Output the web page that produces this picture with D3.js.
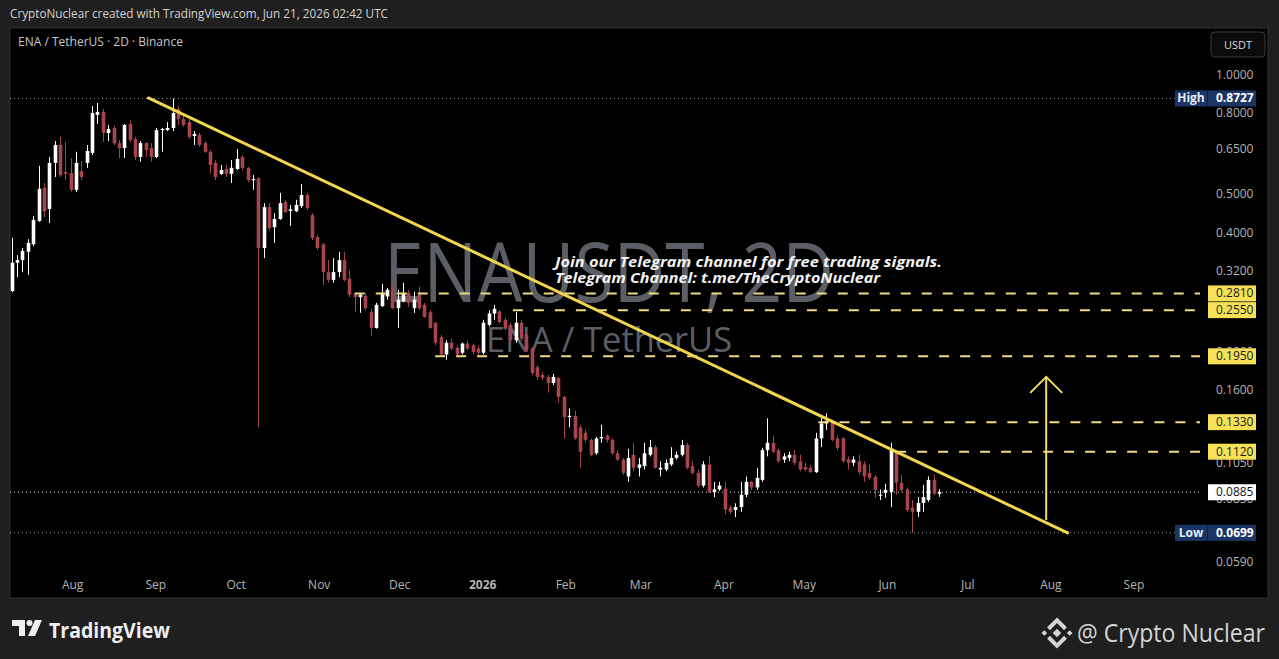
<!DOCTYPE html>
<html>
<head>
<meta charset="utf-8">
<script src="https://cdn.jsdelivr.net/npm/d3@7"></script>
<style>
  body { margin: 0; background: #1f1f1f; overflow: hidden; }
  svg { display: block; }
</style>
</head>
<body>
<div id="chart"></div>
<script>
// ENA / TetherUS, 2D bars
const firstBar = "2025-07-10"
const barDays = 2
const opens = [.285,.336,.341,.358,.374,.428,.519,.459,.600,.666,.569,.566,.513,.572,.600,.636,.793,.807,.714,.735,
  .673,.654,.752,.689,.621,.673,.654,.621,.726,.726,.735,.821,.774,.761,.702,.706,.673,.640,.600,.563,
  .579,.563,.579,.621,.583,.543,.549,.366,.464,.413,.433,.478,.454,.453,.467,.498,.443,.390,.374,.318,
  .304,.318,.341,.306,.281,.275,.277,.252,.230,.261,.276,.284,.258,.268,.282,.258,.279,.263,.252,.237,
  .218,.197,.211,.205,.199,.210,.208,.204,.199,.234,.250,.253,.241,.234,.214,.237,.221,.204,.183,.175,
  .173,.167,.172,.154,.137,.138,.129,.125,.120,.111,.121,.123,.120,.111,.107,.097,.110,.102,.103,.110,
  .115,.101,.101,.104,.108,.110,.1165,.103,.099,.092,.104,.0885,.090,.0903,.081,.0798,.0812,.0872,.094,.091,
  .0951,.113,.118,.113,.107,.108,.110,.106,.1025,.102,.0995,.121,.132,.133,.121,.121,.107,.105,.106,.104,
  .099,.0967,.0867,.0882,.0887,.112,.0935,.090,.081,.079,.0831,.0846,.0951,.0877]
const highs = [.388,.351,.366,.385,.441,.590,.534,.621,.681,.698,.678,.617,.640,.606,.666,.835,.850,.821,.748,.744,
  .685,.752,.770,.698,.681,.678,.673,.735,.735,.761,.8727,.835,.788,.774,.722,.714,.681,.647,.610,.593,
  .593,.610,.651,.628,.586,.559,.552,.475,.475,.448,.504,.484,.470,.484,.531,.504,.448,.395,.377,.341,
  .345,.358,.358,.322,.282,.282,.281,.257,.266,.297,.290,.299,.287,.299,.287,.284,.292,.266,.255,.238,
  .221,.214,.216,.208,.211,.214,.210,.208,.241,.255,.263,.255,.244,.237,.252,.241,.224,.206,.185,.178,
  .175,.176,.173,.155,.144,.142,.131,.127,.121,.122,.131,.124,.121,.113,.108,.114,.118,.108,.118,.120,
  .1165,.106,.107,.115,.112,.120,.118,.106,.101,.106,.109,.094,.094,.094,.082,.083,.094,.097,.0945,.102,
  .1145,.136,.123,.114,.111,.112,.113,.110,.105,.1037,.125,.136,.140,.134,.123,.122,.109,.109,.110,.106,
  .104,.0979,.090,.093,.118,.113,.098,.091,.0846,.086,.0924,.097,.098,.090]
const lows = [.283,.309,.318,.313,.370,.426,.438,.423,.553,.553,.543,.507,.507,.543,.583,.628,.752,.678,.681,.666,
  .617,.617,.678,.610,.604,.621,.604,.617,.640,.722,.722,.748,.740,.689,.666,.659,.636,.563,.543,.559,
  .553,.534,.576,.576,.537,.513,.129,.345,.406,.377,.431,.448,.416,.451,.462,.456,.383,.362,.295,.299,
  .299,.309,.301,.275,.252,.251,.255,.219,.229,.260,.271,.257,.230,.267,.260,.251,.255,.244,.229,.208,
  .195,.191,.202,.195,.197,.202,.197,.196,.197,.232,.241,.236,.227,.211,.211,.213,.200,.175,.170,.170,
  .158,.165,.149,.121,.129,.120,.102,.118,.109,.110,.118,.118,.110,.106,.098,.094,.100,.097,.101,.109,
  .1015,.097,.100,.103,.107,.109,.101,.098,.091,.091,.088,.086,.0892,.078,.078,.0766,.079,.086,.0897,.0897,
  .094,.109,.111,.105,.105,.106,.1037,.100,.100,.099,.099,.115,.127,.119,.113,.105,.101,.103,.098,.094,
  .0951,.0857,.0846,.0857,.0812,.0872,.0887,.0789,.0699,.0767,.079,.0837,.0872,.0862]
const closes = [.336,.341,.360,.377,.431,.516,.453,.600,.666,.559,.563,.513,.600,.553,.643,.802,.807,.714,.731,.673,
  .654,.748,.685,.621,.673,.647,.621,.726,.731,.735,.802,.774,.748,.698,.710,.666,.640,.593,.553,.576,
  .563,.583,.614,.583,.543,.546,.366,.464,.411,.433,.475,.451,.458,.470,.498,.462,.388,.366,.318,.304,
  .318,.341,.304,.279,.275,.279,.258,.230,.263,.282,.287,.258,.271,.282,.266,.271,.258,.245,.230,.211,
  .197,.211,.204,.197,.210,.204,.200,.199,.237,.250,.257,.238,.229,.214,.237,.216,.202,.177,.173,.172,
  .167,.173,.154,.137,.138,.121,.112,.120,.110,.121,.122,.120,.111,.107,.099,.108,.102,.104,.111,.115,
  .102,.102,.105,.108,.110,.1165,.102,.099,.092,.104,.0885,.090,.092,.080,.079,.0812,.0872,.094,.091,.0962,
  .113,.118,.112,.106,.109,.110,.105,.101,.101,.0995,.121,.132,.134,.120,.1145,.106,.105,.107,.0995,.097,
  .0962,.0897,.0872,.0897,.114,.0935,.0897,.0798,.079,.0831,.086,.0951,.0877,.0885]

const priceTicks = [1, 0.8, 0.65, 0.5, 0.4, 0.32, 0.2, 0.16, 0.105, 0.085, 0.059]
const levelPrices = [0.281, 0.255, 0.195, 0.133, 0.112]
const levelFrom = ["2025-11-15", "2026-01-13", "2025-12-15", "2026-05-07", "2026-06-05"]
const trendDates = ["2025-08-30", "2026-08-08"]
const trendPrices = [0.875, 0.0699]
const arrowDate = "2026-07-31"
const arrowPrices = [0.0753, 0.173]
const highPrice = 0.8727, lowPrice = 0.0699, lastPrice = 0.0885

const W = 1279, H = 659
const panel = {x: 10, y: 28, w: 1258, h: 570}
const plotRight = 1200

const parse = d3.utcParse("%Y-%m-%d")
const t0 = parse(firstBar)
const bars = closes.map((c, i) => ({
  date: d3.utcDay.offset(t0, i * barDays),
  o: opens[i], h: highs[i], l: lows[i], c: c
}))

// time scale: 2.68 px per day
const x = d3.scaleUtc()
  .domain([Date.UTC(2025, 6, 10), Date.UTC(2026, 8, 1)])
  .range([11.7, 11.7 + 418 * 2.68])
// log price scale
const y = d3.scaleLog().domain([1, 0.059]).range([75, 562])

const svg = d3.select("#chart").append("svg")
  .attr("width", W).attr("height", H)

svg.append("rect").attr("width", W).attr("height", H).attr("fill", "#1f1f1f")

// header
svg.append("text").attr("x", 10).attr("y", 18)
  .attr("font-family", "Open Sans, sans-serif").attr("font-size", 12)
  .attr("fill", "#d2d2d2").attr("textLength", 378).attr("lengthAdjust", "spacingAndGlyphs")
  .text("CryptoNuclear created with TradingView.com, Jun 21, 2026 02:42 UTC")

svg.append("rect")
  .attr("x", panel.x).attr("y", panel.y).attr("width", panel.w).attr("height", panel.h)
  .attr("fill", "#000").attr("stroke", "#333").attr("stroke-width", 1)

svg.append("defs").append("clipPath").attr("id", "plotclip")
  .append("rect").attr("x", panel.x).attr("y", panel.y).attr("width", plotRight - panel.x).attr("height", 540)

svg.append("text").attr("x", 18).attr("y", 46)
  .attr("font-family", "Open Sans, sans-serif").attr("font-size", 12)
  .attr("fill", "#c8c8c8").text("ENA / TetherUS · 2D · Binance")

// watermark
const wm = svg.append("g").attr("font-family", "Open Sans, sans-serif").attr("fill", "#5b5e64")
wm.append("text").attr("x", 384).attr("y", 302).attr("font-size", 82)
  .attr("textLength", 450).attr("lengthAdjust", "spacingAndGlyphs").text("ENAUSDT, 2D")
wm.append("text").attr("x", 486).attr("y", 352).attr("font-size", 35)
  .attr("textLength", 246).attr("lengthAdjust", "spacingAndGlyphs").text("ENA / TetherUS")

const plot = svg.append("g").attr("clip-path", "url(#plotclip)")

// high / low / last dotted lines
function dotted(p, x2, col) {
  plot.append("line").attr("x1", panel.x).attr("x2", x2)
    .attr("y1", y(p)).attr("y2", y(p))
    .attr("stroke", col).attr("stroke-width", 1).attr("stroke-dasharray", "1,3")
}
dotted(highPrice, plotRight, "#9a9a9a")
dotted(lowPrice, plotRight, "#9a9a9a")
dotted(lastPrice, plotRight, "#e0e0e0")

// candles
const up = "#ffffff", down = "#a8444c"
const bw = 3.6
const cg = plot.append("g")
cg.selectAll("line").data(bars).join("line")
  .attr("x1", d => Math.round(x(d.date)) + 0.5).attr("x2", d => Math.round(x(d.date)) + 0.5)
  .attr("y1", d => y(d.h)).attr("y2", d => y(d.l))
  .attr("stroke", d => d.c >= d.o ? up : down).attr("stroke-width", 1)
cg.selectAll("rect").data(bars).join("rect")
  .attr("x", d => Math.round(x(d.date)) + 0.5 - bw / 2)
  .attr("width", bw)
  .attr("y", d => y(Math.max(d.o, d.c)))
  .attr("height", d => Math.max(1, Math.abs(y(d.o) - y(d.c))))
  .attr("fill", d => d.c >= d.o ? up : down)

// dashed levels
plot.selectAll(".lvl").data(levelPrices).join("line").attr("class", "lvl")
  .attr("x1", (d, i) => x(parse(levelFrom[i]))).attr("x2", plotRight + 8)
  .attr("y1", d => y(d)).attr("y2", d => y(d))
  .attr("stroke", "#f0d983").attr("stroke-width", 2).attr("stroke-dasharray", "10,11")

// telegram text
const tg = svg.append("g").attr("font-family", "Open Sans, sans-serif")
  .attr("font-weight", "bold").attr("font-style", "italic").attr("font-size", 14).attr("fill", "#f2f2f2")
tg.append("text").attr("x", 555).attr("y", 267).attr("textLength", 387).attr("lengthAdjust", "spacingAndGlyphs")
  .text("Join our Telegram channel for free trading signals.")
tg.append("text").attr("x", 555).attr("y", 283).attr("textLength", 325).attr("lengthAdjust", "spacingAndGlyphs")
  .text("Telegram Channel: t.me/TheCryptoNuclear")

// trend line
const tl = d3.line().x(d => x(parse(d[0]))).y(d => y(d[1]))
plot.append("path").datum(trendDates.map((d, i) => [d, trendPrices[i]]))
  .attr("d", tl).attr("fill", "none").attr("stroke", "#f3d64e").attr("stroke-width", 3)
  .attr("stroke-linecap", "round")

// target arrow
const ax = x(parse(arrowDate))
const ay0 = y(arrowPrices[0]), ay1 = y(arrowPrices[1])
plot.append("line").attr("x1", ax).attr("x2", ax).attr("y1", ay0).attr("y2", ay1)
  .attr("stroke", "#f3d86a").attr("stroke-width", 2)
plot.append("path")
  .attr("d", `M${ax - 16},${ay1 + 16}L${ax},${ay1}L${ax + 16},${ay1 + 16}`)
  .attr("fill", "none").attr("stroke", "#f3d86a").attr("stroke-width", 2)

// price axis
const fmt = d3.format(".4f")
const pa = svg.append("g").attr("font-family", "Open Sans, sans-serif").attr("font-size", 12)
pa.selectAll("text").data(priceTicks).join("text")
  .attr("x", 1216).attr("y", d => y(d) + 4).attr("fill", "#b4b4b4").text(d => fmt(d))

function tag(p, fill, col, name) {
  const g = svg.append("g").attr("font-family", "Open Sans, sans-serif").attr("font-size", 12)
  const yy = y(p)
  if (name) {
    g.append("rect").attr("x", 1175).attr("y", yy - 8).attr("width", 32).attr("height", 16).attr("fill", "#1b3566")
    g.append("text").attr("x", 1191).attr("y", yy + 4).attr("text-anchor", "middle")
      .attr("font-weight", "bold").attr("fill", "#e8ecf4").text(name)
    g.append("line").attr("x1", 1207.5).attr("x2", 1207.5).attr("y1", yy - 8).attr("y2", yy + 8).attr("stroke", "#0d2048")
  }
  g.append("rect").attr("x", 1208).attr("y", yy - 8).attr("width", 48).attr("height", 16).attr("fill", fill)
  g.append("text").attr("x", 1216).attr("y", yy + 4).attr("fill", col)
    .attr("font-weight", name ? "bold" : "normal").text(fmt(p))
}
levelPrices.forEach(p => tag(p, "#f5e058", "#1a1a1a"))
tag(lastPrice, "#ffffff", "#111")
tag(highPrice, "#1b3566", "#ffffff", "High")
tag(lowPrice, "#1b3566", "#ffffff", "Low")

// USDT button
svg.append("rect").attr("x", 1211).attr("y", 32).attr("width", 54).attr("height", 25).attr("rx", 4)
  .attr("fill", "#0b0b0b").attr("stroke", "#3a3a3a")
svg.append("text").attr("x", 1238).attr("y", 49).attr("text-anchor", "middle")
  .attr("font-family", "Open Sans, sans-serif").attr("font-size", 11).attr("fill", "#dcdcdc").text("USDT")

// time axis (labels sit a touch right of the month start, like the bars they snap to)
const months = d3.utcMonth.range(Date.UTC(2025, 7, 1), Date.UTC(2026, 9, 1))
svg.append("g").attr("font-family", "Open Sans, sans-serif").attr("font-size", 12)
  .selectAll("text").data(months).join("text")
  .attr("x", d => x(d) + 2).attr("y", 589).attr("text-anchor", "middle")
  .attr("fill", "#b4b4b4")
  .attr("font-weight", d => d.getUTCMonth() === 0 ? "bold" : "normal")
  .text(d => d.getUTCMonth() === 0 ? d3.utcFormat("%Y")(d) : d3.utcFormat("%b")(d))

// footer: TradingView logo
const lg = svg.append("g").attr("fill", "#eeeeee")
lg.append("path").attr("d", "M12,620H25V636H19V626H12Z")
lg.append("circle").attr("cx", 29.5).attr("cy", 623).attr("r", 3)
lg.append("path").attr("d", "M35,620H42L35,636H28Z")
svg.append("text").attr("x", 49).attr("y", 638)
  .attr("font-family", "Open Sans, sans-serif").attr("font-weight", "bold").attr("font-size", 21)
  .attr("fill", "#eeeeee").attr("textLength", 121).attr("lengthAdjust", "spacingAndGlyphs").text("TradingView")

// footer: signature
const bn = svg.append("g").attr("fill", "#d4d4d4").attr("transform", "translate(1057,633) rotate(45)")
bn.append("rect").attr("x", -3).attr("y", -3).attr("width", 6).attr("height", 6)
bn.append("path").attr("d", "M-11,-11H3V-7H-7V3H-11Z")
bn.append("path").attr("d", "M11,11H-3V7H7V-3H11Z")
bn.append("rect").attr("x", 7).attr("y", -11).attr("width", 4).attr("height", 4)
bn.append("rect").attr("x", -11).attr("y", 7).attr("width", 4).attr("height", 4)
svg.append("text").attr("x", 1077).attr("y", 642)
  .attr("font-family", "Open Sans, sans-serif").attr("font-size", 26)
  .attr("fill", "#d4d4d4").attr("textLength", 188).attr("lengthAdjust", "spacingAndGlyphs").text("@ Crypto Nuclear")
</script>
</body>
</html>
